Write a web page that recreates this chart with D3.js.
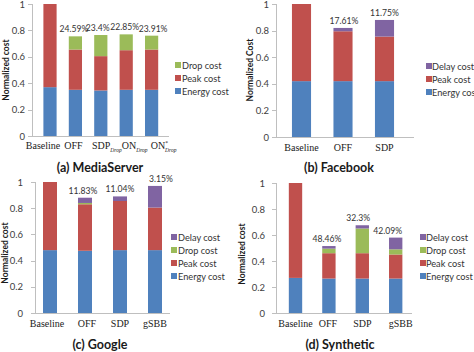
<!DOCTYPE html>
<html>
<head>
<meta charset="utf-8">
<script src="https://cdn.jsdelivr.net/npm/d3@7"></script>
<style>
  body { margin: 0; background: #fff; }
  svg { display: block; font-family: Lato, 'Open Sans', sans-serif; }
  .axis path, .axis line { stroke: #bfbfbf; shape-rendering: crispEdges; }
  .yaxis text { fill: #404040; font-size: 9.5px; font-family: Lato, 'Open Sans', sans-serif; }
  .ytitle { font-size: 8.5px; font-weight: bold; fill: #1a1a1a; }
  .title { font-size: 12.5px; font-weight: bold; fill: #1a1a1a; }
  .pct { font-size: 8.6px; fill: #333; }
  .legend text { font-size: 9.2px; fill: #333; }
</style>
</head>
<body>
<svg id="chart" width="474" height="352"></svg>
<script>
// (a) MediaServer
const catsA   = ['Baseline', 'OFF', 'SDP_Drop', 'ON_Drop', 'ON*_Drop'];
const energyA = [0.37, 0.35, 0.345, 0.35, 0.35];
const peakA   = [0.63, 0.305, 0.26, 0.30, 0.305];
const dropA   = [0, 0.10, 0.16, 0.12, 0.105];
const pctA    = ['', '24.59%', '23.4%', '22.85%', '23.91%'];

// (b) Facebook
const catsB   = ['Baseline', 'OFF', 'SDP'];
const energyB = [0.42, 0.42, 0.42];
const peakB   = [0.58, 0.375, 0.335];
const delayB  = [0, 0.025, 0.125];
const pctB    = ['', '17.61%', '11.75%'];

// (c) Google
const catsC   = ['Baseline', 'OFF', 'SDP', 'gSBB'];
const energyC = [0.48, 0.475, 0.48, 0.48];
const peakC   = [0.52, 0.355, 0.375, 0.325];
const dropC   = [0, 0.01, 0, 0];
const delayC  = [0, 0.04, 0.035, 0.165];
const pctC    = ['', '11.83%', '11.04%', '3.15%'];

// (d) Synthetic
const catsD   = ['Baseline', 'OFF', 'SDP', 'gSBB'];
const energyD = [0.27, 0.265, 0.265, 0.265];
const peakD   = [0.73, 0.195, 0.195, 0.185];
const dropD   = [0, 0.035, 0.19, 0.04];
const delayD  = [0, 0.02, 0.025, 0.09];
const pctD    = ['', '48.46%', '32.3%', '42.09%'];

const yTicks = [0, 0.2, 0.4, 0.6, 0.8, 1];

const colors = { energy: '#4f81bd', peak: '#c0504d', drop: '#9bbb59', delay: '#8064a2' };
const names  = { energy: 'Energy cost', peak: 'Peak cost', drop: 'Drop cost', delay: 'Delay cost' };

const panels = [
  { cats: catsA, series: { energy: energyA, peak: peakA, drop: dropA }, pct: pctA,
    title: '(a) MediaServer', ytitle: 'Normalized cost',
    axisX: [32, 169], band: [37.3, 164.3], pad: 0.48, y: [136, 4], tickPad: 3, labY: 13,
    labDx: [-7, -2, 6, 8.5, 12], pctDx: [0, -1.5, -3, -1.5, 1.5],
    leg: [175, 65], legTx: 182, titleXY: [100, 172], ytitleXY: [9, 70] },
  { cats: catsB, series: { energy: energyB, peak: peakB, delay: delayB }, pct: pctB,
    title: '(b) Facebook', ytitle: 'Normalized Cost',
    axisX: [276, 414], band: [280.75, 405.25], pad: 0.54, y: [137, 4], tickPad: 3, labY: 14,
    labDx: [0, 0, 0], pctDx: [0, 1, 0],
    leg: [426, 66], legTx: 432, titleXY: [339, 172], ytitleXY: [253, 70] },
  { cats: catsC, series: { energy: energyC, peak: peakC, drop: dropC, delay: delayC }, pct: pctC,
    title: '(c) Google', ytitle: 'Normalized cost',
    axisX: [35, 170], band: [32.5, 172.5], pad: 0.6, y: [313, 182], tickPad: 8, labY: 14,
    labDx: [-3, 2, 0, 0], pctDx: [0, -2, 0, 6],
    leg: [171, 237], legTx: 178, titleXY: [100, 349], ytitleXY: [8, 253] },
  { cats: catsD, series: { energy: energyD, peak: peakD, drop: dropD, delay: delayD }, pct: pctD,
    title: '(d) Synthetic', ytitle: 'Normalized cost',
    axisX: [276, 412], band: [278.8, 412.4], pad: 0.6, y: [313, 183], tickPad: 7, labY: 14,
    labDx: [0, -1, 0, 5], pctDx: [0, -2, -4, -8],
    leg: [420, 237], legTx: 426, titleXY: [340, 349], ytitleXY: [245, 254] }
];

const svg = d3.select('#chart');
const serif = "'Liberation Serif', 'DejaVu Serif', 'Times New Roman', serif";

panels.forEach(p => {
  const g = svg.append('g');
  const keys = Object.keys(p.series);

  const x = d3.scaleBand()
    .domain(p.cats)
    .range(p.band)
    .paddingInner(p.pad)
    .paddingOuter(p.pad / 2);

  const y = d3.scaleLinear()
    .domain([0, 1])
    .range(p.y);

  const rows = p.cats.map((c, i) => {
    const r = { cat: c };
    keys.forEach(k => { r[k] = p.series[k][i]; });
    return r;
  });
  const stacked = d3.stack().keys(keys)(rows);

  // bars
  g.selectAll('.layer')
    .data(stacked)
    .enter().append('g')
      .attr('fill', d => colors[d.key])
    .selectAll('rect')
      .data(d => d)
    .enter().append('rect')
      .attr('x', d => x(d.data.cat))
      .attr('y', d => y(d[1]))
      .attr('height', d => y(d[0]) - y(d[1]))
      .attr('width', x.bandwidth());

  // y axis
  const yAxis = d3.axisLeft(y)
    .tickValues(yTicks)
    .tickFormat(d3.format('~g'))
    .tickSize(4)
    .tickPadding(p.tickPad)
    .tickSizeOuter(0);
  const ya = g.append('g')
    .attr('class', 'axis yaxis')
    .attr('transform', `translate(${p.axisX[0]},0)`)
    .call(yAxis);
  ya.select('.domain').attr('d', `M0,${p.y[0]}V${p.y[1]}`);

  // x axis
  const xAxis = d3.axisBottom(x).tickSize(0).tickSizeOuter(0);
  const xa = g.append('g')
    .attr('class', 'axis xaxis')
    .attr('transform', `translate(0,${p.y[0]})`)
    .call(xAxis);
  xa.select('.domain').attr('d', `M${p.axisX[0]},0H${p.axisX[1]}`);
  xa.selectAll('.tick text')
    .attr('x', (d, i) => p.labDx[i])
    .attr('y', p.labY)
    .attr('dy', 0)
    .style('font-family', serif)
    .style('font-size', '10px')
    .style('fill', '#1a1a1a')
    .each(function(d) {
      const t = d3.select(this).text('');
      const [main, sub] = d.split('_');
      const star = main.endsWith('*');
      t.append('tspan').text(star ? main.slice(0, -1) : main);
      if (star) {
        t.append('tspan').attr('dy', -4).style('font-size', '5.5px').text('*');
      }
      if (sub) {
        t.append('tspan')
          .attr('dy', star ? 7 : 3)
          .attr('dx', star ? -2.8 : 0)
          .style('font-size', '5.5px')
          .style('font-style', 'italic')
          .text(sub);
      }
    });

  // percentage labels
  g.selectAll('.pct')
    .data(rows)
    .enter().append('text')
      .attr('class', 'pct')
      .attr('text-anchor', 'middle')
      .attr('x', (d, i) => x(d.cat) + x.bandwidth() / 2 + p.pctDx[i])
      .attr('y', d => y(d3.sum(keys, k => d[k])) - 4)
      .text((d, i) => p.pct[i]);

  // y title
  g.append('text')
    .attr('class', 'ytitle')
    .attr('text-anchor', 'middle')
    .attr('transform', `translate(${p.ytitleXY[0]},${p.ytitleXY[1]}) rotate(-90)`)
    .text(p.ytitle);

  // panel title
  g.append('text')
    .attr('class', 'title')
    .attr('text-anchor', 'middle')
    .attr('x', p.titleXY[0])
    .attr('y', p.titleXY[1])
    .text(p.title);

  // legend, top entry = last series
  const legKeys = keys.slice().reverse();
  const item = g.append('g')
      .attr('class', 'legend')
    .selectAll('g')
    .data(legKeys)
    .enter().append('g')
      .attr('transform', (d, i) => `translate(0,${p.leg[1] + i * 13})`);
  item.append('rect')
    .attr('x', p.leg[0])
    .attr('y', -3)
    .attr('width', 6)
    .attr('height', 6)
    .attr('fill', d => colors[d]);
  item.append('text')
    .attr('x', p.legTx)
    .attr('y', 3.5)
    .text(d => names[d]);
});
</script>
</body>
</html>
